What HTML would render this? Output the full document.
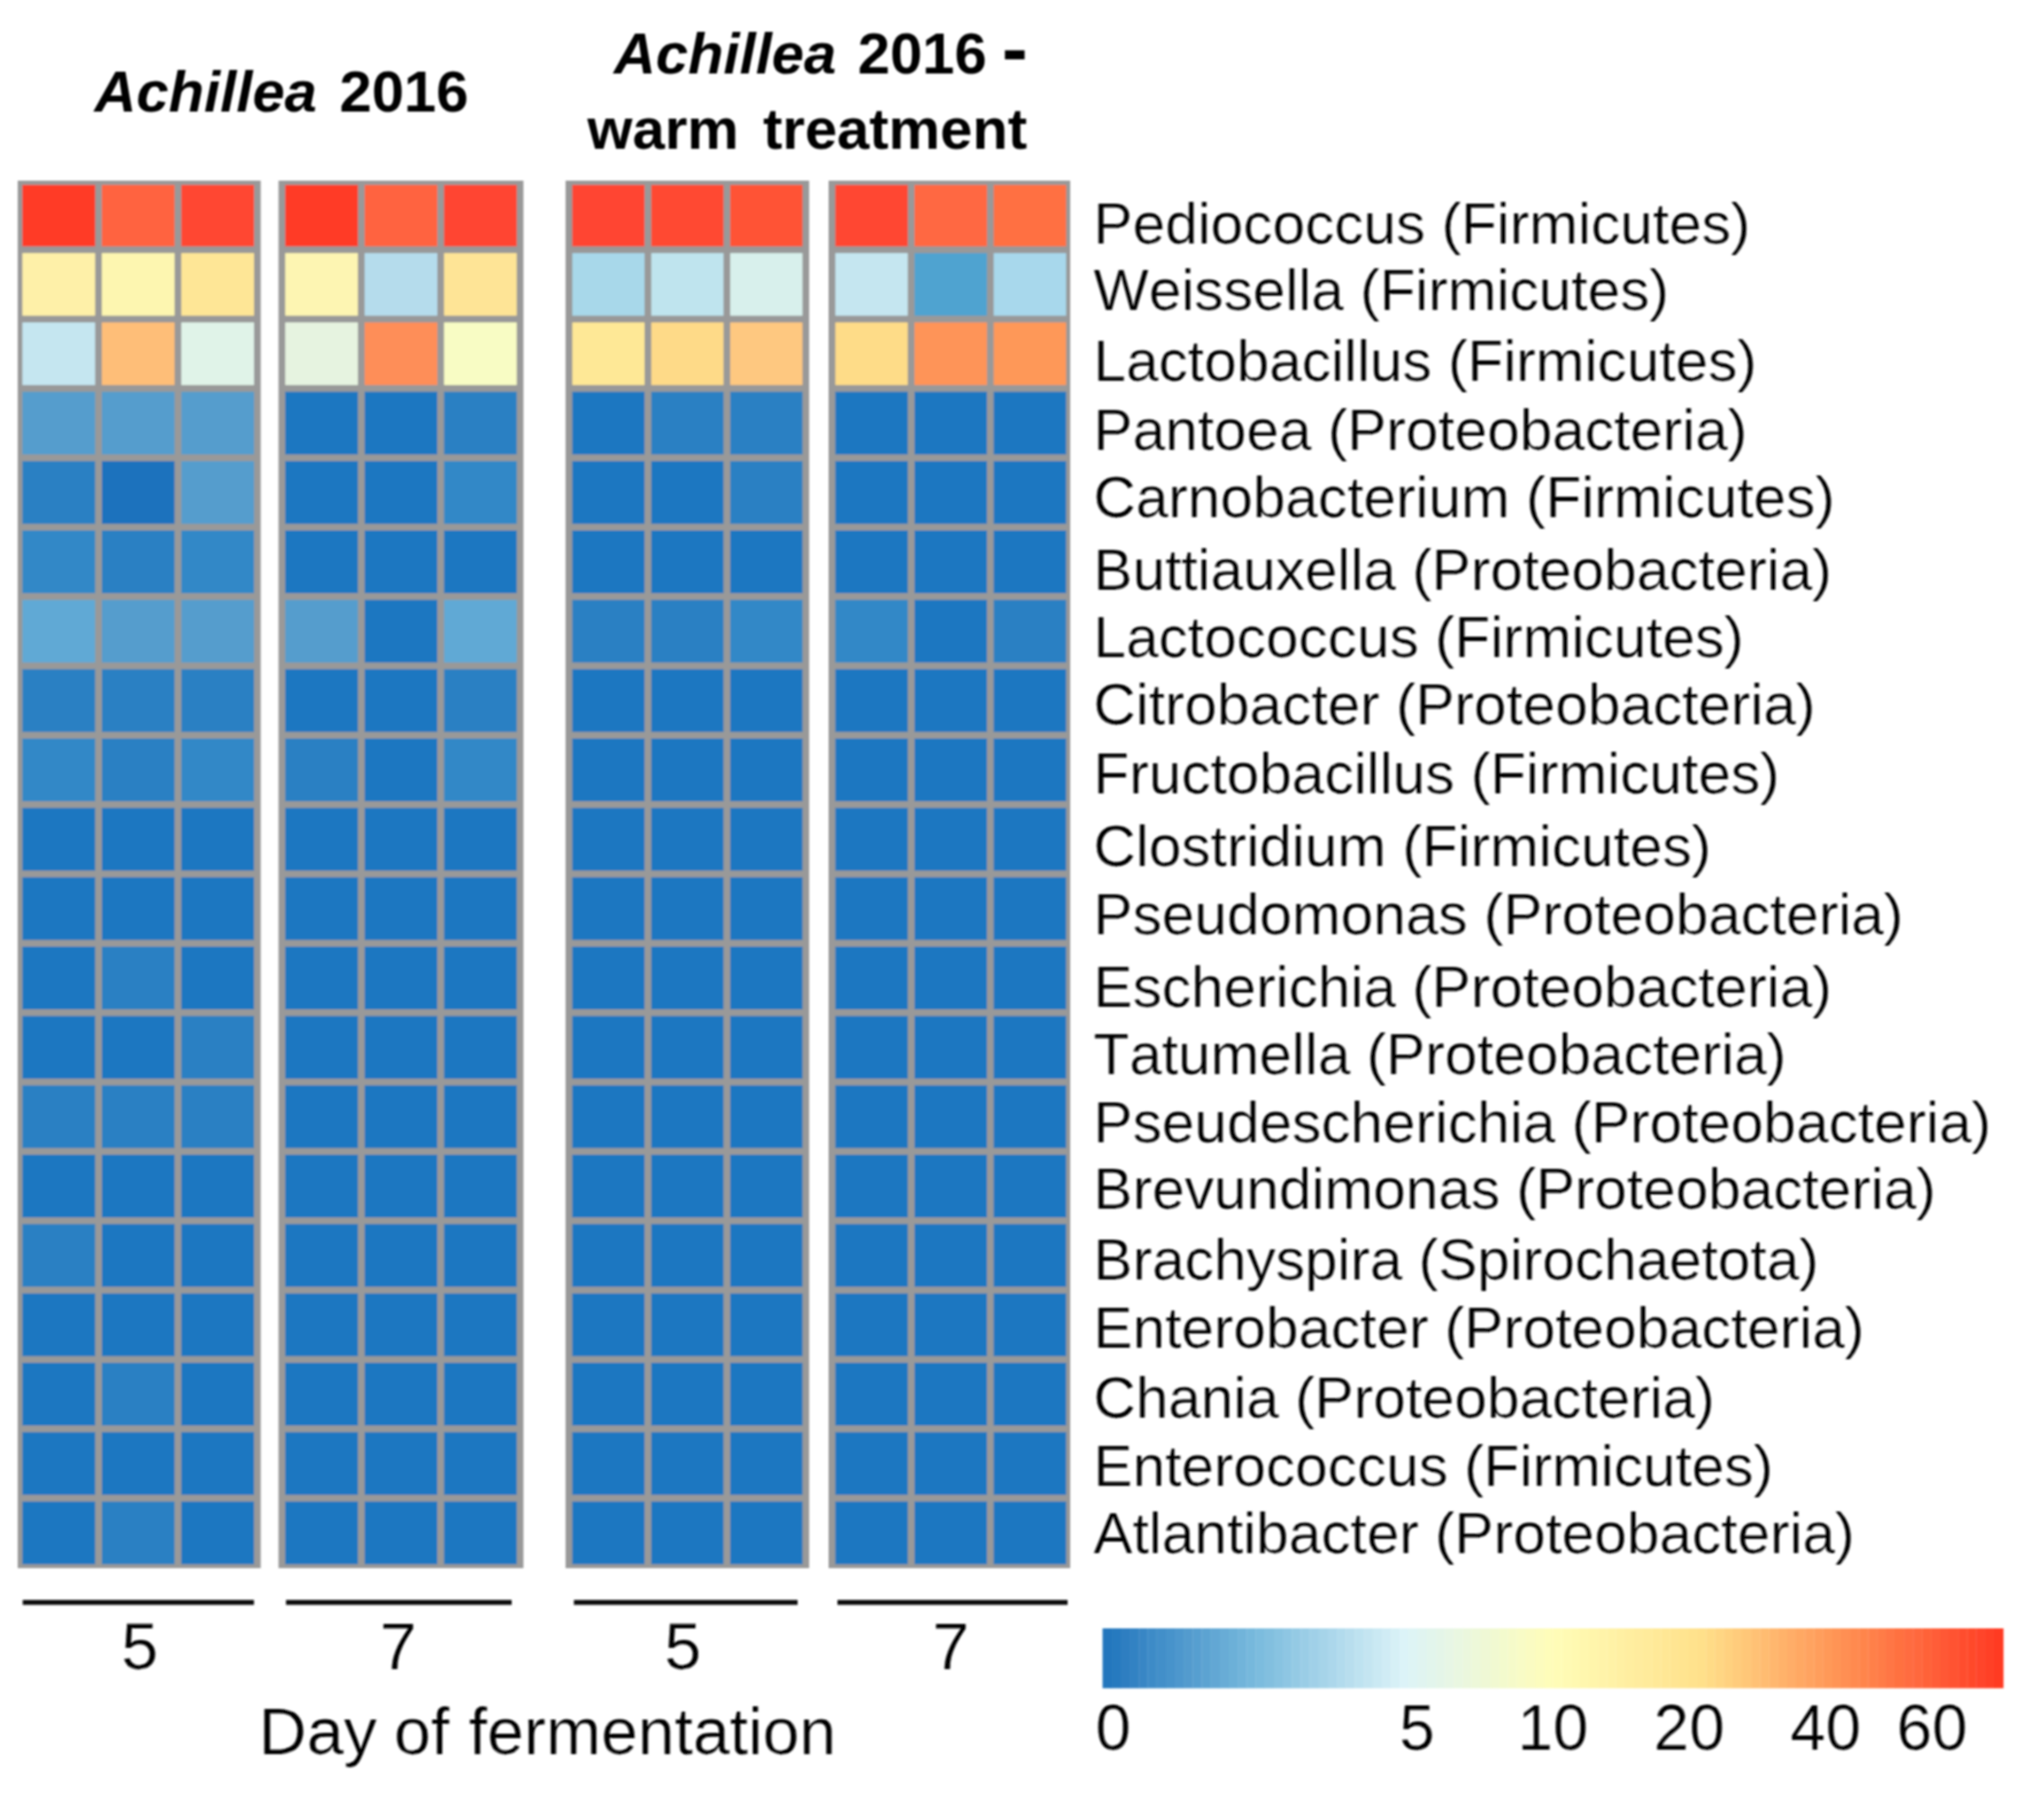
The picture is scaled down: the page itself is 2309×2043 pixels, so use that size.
<!DOCTYPE html>
<html lang="en"><head><meta charset="utf-8"><title>Heatmap</title>
<style>html,body{margin:0;padding:0;background:#fff;}body{width:2309px;height:2043px;overflow:hidden;}svg{display:block;}text{font-family:"Liberation Sans",sans-serif;font-kerning:none;fill:#000;stroke:#fff;stroke-width:0.17px;}text.b{stroke:none;}</style>
</head><body>
<svg width="2309" height="2043" viewBox="0 0 2309 2043">
<defs><clipPath id="hm"><rect x="20" y="204" width="1189" height="1567"/></clipPath>
<linearGradient id="cb" x1="0" x2="1" y1="0" y2="0">
<stop offset="0.0000" stop-color="#2376BD"/>
<stop offset="0.1667" stop-color="#79BADD"/>
<stop offset="0.3333" stop-color="#DCF3F8"/>
<stop offset="0.5000" stop-color="#FFFDB8"/>
<stop offset="0.6667" stop-color="#FFE08A"/>
<stop offset="0.8333" stop-color="#FF8C50"/>
<stop offset="1.0000" stop-color="#FF3A24"/>
</linearGradient><filter id="soft" x="0" y="0" width="2309" height="2043" filterUnits="userSpaceOnUse"><feGaussianBlur stdDeviation="1.0"/></filter></defs>
<rect width="2309" height="2043" fill="#fff"/>
<g filter="url(#soft)">
<g clip-path="url(#hm)">
<rect x="17.70" y="199.90" width="276.85" height="1574.20" fill="#999999"/>
<rect x="25.30" y="208.80" width="82.15" height="69.43" fill="#FF3A27"/>
<rect x="115.05" y="208.80" width="82.15" height="69.43" fill="#FF643F"/>
<rect x="204.80" y="208.80" width="82.15" height="69.43" fill="#FF4730"/>
<rect x="25.30" y="285.83" width="82.15" height="70.73" fill="#FEF0A8"/>
<rect x="115.05" y="285.83" width="82.15" height="70.73" fill="#FDF6B0"/>
<rect x="204.80" y="285.83" width="82.15" height="70.73" fill="#FEE696"/>
<rect x="25.30" y="364.16" width="82.15" height="70.73" fill="#C5E6F0"/>
<rect x="115.05" y="364.16" width="82.15" height="70.73" fill="#FEBE78"/>
<rect x="204.80" y="364.16" width="82.15" height="70.73" fill="#E0F3E8"/>
<rect x="25.30" y="442.49" width="82.15" height="70.73" fill="#549DCD"/>
<rect x="115.05" y="442.49" width="82.15" height="70.73" fill="#549DCD"/>
<rect x="204.80" y="442.49" width="82.15" height="70.73" fill="#549DCD"/>
<rect x="25.30" y="520.82" width="82.15" height="70.73" fill="#2A80C3"/>
<rect x="115.05" y="520.82" width="82.15" height="70.73" fill="#1D72BD"/>
<rect x="204.80" y="520.82" width="82.15" height="70.73" fill="#549DCD"/>
<rect x="25.30" y="599.15" width="82.15" height="70.73" fill="#3388C7"/>
<rect x="115.05" y="599.15" width="82.15" height="70.73" fill="#2A80C3"/>
<rect x="204.80" y="599.15" width="82.15" height="70.73" fill="#3388C7"/>
<rect x="25.30" y="677.48" width="82.15" height="70.73" fill="#60A9D5"/>
<rect x="115.05" y="677.48" width="82.15" height="70.73" fill="#549DCD"/>
<rect x="204.80" y="677.48" width="82.15" height="70.73" fill="#549DCD"/>
<rect x="25.30" y="755.81" width="82.15" height="70.73" fill="#2A80C3"/>
<rect x="115.05" y="755.81" width="82.15" height="70.73" fill="#2A80C3"/>
<rect x="204.80" y="755.81" width="82.15" height="70.73" fill="#2A80C3"/>
<rect x="25.30" y="834.14" width="82.15" height="70.73" fill="#3388C7"/>
<rect x="115.05" y="834.14" width="82.15" height="70.73" fill="#2A80C3"/>
<rect x="204.80" y="834.14" width="82.15" height="70.73" fill="#3388C7"/>
<rect x="25.30" y="912.47" width="82.15" height="70.73" fill="#1F77C1"/>
<rect x="115.05" y="912.47" width="82.15" height="70.73" fill="#1F77C1"/>
<rect x="204.80" y="912.47" width="82.15" height="70.73" fill="#1F77C1"/>
<rect x="25.30" y="990.80" width="82.15" height="70.73" fill="#1F77C1"/>
<rect x="115.05" y="990.80" width="82.15" height="70.73" fill="#1F77C1"/>
<rect x="204.80" y="990.80" width="82.15" height="70.73" fill="#1F77C1"/>
<rect x="25.30" y="1069.13" width="82.15" height="70.73" fill="#1F77C1"/>
<rect x="115.05" y="1069.13" width="82.15" height="70.73" fill="#2A80C3"/>
<rect x="204.80" y="1069.13" width="82.15" height="70.73" fill="#1F77C1"/>
<rect x="25.30" y="1147.46" width="82.15" height="70.73" fill="#1F77C1"/>
<rect x="115.05" y="1147.46" width="82.15" height="70.73" fill="#1F77C1"/>
<rect x="204.80" y="1147.46" width="82.15" height="70.73" fill="#2A80C3"/>
<rect x="25.30" y="1225.79" width="82.15" height="70.73" fill="#2A80C3"/>
<rect x="115.05" y="1225.79" width="82.15" height="70.73" fill="#2A80C3"/>
<rect x="204.80" y="1225.79" width="82.15" height="70.73" fill="#2A80C3"/>
<rect x="25.30" y="1304.12" width="82.15" height="70.73" fill="#1F77C1"/>
<rect x="115.05" y="1304.12" width="82.15" height="70.73" fill="#1F77C1"/>
<rect x="204.80" y="1304.12" width="82.15" height="70.73" fill="#1F77C1"/>
<rect x="25.30" y="1382.45" width="82.15" height="70.73" fill="#2A80C3"/>
<rect x="115.05" y="1382.45" width="82.15" height="70.73" fill="#1F77C1"/>
<rect x="204.80" y="1382.45" width="82.15" height="70.73" fill="#1F77C1"/>
<rect x="25.30" y="1460.78" width="82.15" height="70.73" fill="#1F77C1"/>
<rect x="115.05" y="1460.78" width="82.15" height="70.73" fill="#1F77C1"/>
<rect x="204.80" y="1460.78" width="82.15" height="70.73" fill="#1F77C1"/>
<rect x="25.30" y="1539.11" width="82.15" height="70.73" fill="#1F77C1"/>
<rect x="115.05" y="1539.11" width="82.15" height="70.73" fill="#2A80C3"/>
<rect x="204.80" y="1539.11" width="82.15" height="70.73" fill="#1F77C1"/>
<rect x="25.30" y="1617.44" width="82.15" height="70.73" fill="#1F77C1"/>
<rect x="115.05" y="1617.44" width="82.15" height="70.73" fill="#1F77C1"/>
<rect x="204.80" y="1617.44" width="82.15" height="70.73" fill="#1F77C1"/>
<rect x="25.30" y="1695.77" width="82.15" height="70.73" fill="#1F77C1"/>
<rect x="115.05" y="1695.77" width="82.15" height="70.73" fill="#2A80C3"/>
<rect x="204.80" y="1695.77" width="82.15" height="70.73" fill="#1F77C1"/>
<rect x="314.60" y="199.90" width="276.70" height="1574.20" fill="#999999"/>
<rect x="322.20" y="208.80" width="82.10" height="69.43" fill="#FF3A27"/>
<rect x="411.90" y="208.80" width="82.10" height="69.43" fill="#FF6340"/>
<rect x="501.60" y="208.80" width="82.10" height="69.43" fill="#FF4530"/>
<rect x="322.20" y="285.83" width="82.10" height="70.73" fill="#FDF5B2"/>
<rect x="411.90" y="285.83" width="82.10" height="70.73" fill="#B5DCEC"/>
<rect x="501.60" y="285.83" width="82.10" height="70.73" fill="#FEE496"/>
<rect x="322.20" y="364.16" width="82.10" height="70.73" fill="#E6F3E0"/>
<rect x="411.90" y="364.16" width="82.10" height="70.73" fill="#FE8E58"/>
<rect x="501.60" y="364.16" width="82.10" height="70.73" fill="#F8FCC4"/>
<rect x="322.20" y="442.49" width="82.10" height="70.73" fill="#1F77C1"/>
<rect x="411.90" y="442.49" width="82.10" height="70.73" fill="#1F77C1"/>
<rect x="501.60" y="442.49" width="82.10" height="70.73" fill="#2A80C3"/>
<rect x="322.20" y="520.82" width="82.10" height="70.73" fill="#1F77C1"/>
<rect x="411.90" y="520.82" width="82.10" height="70.73" fill="#1F77C1"/>
<rect x="501.60" y="520.82" width="82.10" height="70.73" fill="#3388C7"/>
<rect x="322.20" y="599.15" width="82.10" height="70.73" fill="#1F77C1"/>
<rect x="411.90" y="599.15" width="82.10" height="70.73" fill="#1F77C1"/>
<rect x="501.60" y="599.15" width="82.10" height="70.73" fill="#1F77C1"/>
<rect x="322.20" y="677.48" width="82.10" height="70.73" fill="#549DCD"/>
<rect x="411.90" y="677.48" width="82.10" height="70.73" fill="#1F77C1"/>
<rect x="501.60" y="677.48" width="82.10" height="70.73" fill="#60A9D5"/>
<rect x="322.20" y="755.81" width="82.10" height="70.73" fill="#1F77C1"/>
<rect x="411.90" y="755.81" width="82.10" height="70.73" fill="#1F77C1"/>
<rect x="501.60" y="755.81" width="82.10" height="70.73" fill="#2A80C3"/>
<rect x="322.20" y="834.14" width="82.10" height="70.73" fill="#2A80C3"/>
<rect x="411.90" y="834.14" width="82.10" height="70.73" fill="#1F77C1"/>
<rect x="501.60" y="834.14" width="82.10" height="70.73" fill="#3388C7"/>
<rect x="322.20" y="912.47" width="82.10" height="70.73" fill="#1F77C1"/>
<rect x="411.90" y="912.47" width="82.10" height="70.73" fill="#1F77C1"/>
<rect x="501.60" y="912.47" width="82.10" height="70.73" fill="#1F77C1"/>
<rect x="322.20" y="990.80" width="82.10" height="70.73" fill="#1F77C1"/>
<rect x="411.90" y="990.80" width="82.10" height="70.73" fill="#1F77C1"/>
<rect x="501.60" y="990.80" width="82.10" height="70.73" fill="#1F77C1"/>
<rect x="322.20" y="1069.13" width="82.10" height="70.73" fill="#1F77C1"/>
<rect x="411.90" y="1069.13" width="82.10" height="70.73" fill="#1F77C1"/>
<rect x="501.60" y="1069.13" width="82.10" height="70.73" fill="#1F77C1"/>
<rect x="322.20" y="1147.46" width="82.10" height="70.73" fill="#1F77C1"/>
<rect x="411.90" y="1147.46" width="82.10" height="70.73" fill="#1F77C1"/>
<rect x="501.60" y="1147.46" width="82.10" height="70.73" fill="#1F77C1"/>
<rect x="322.20" y="1225.79" width="82.10" height="70.73" fill="#1F77C1"/>
<rect x="411.90" y="1225.79" width="82.10" height="70.73" fill="#1F77C1"/>
<rect x="501.60" y="1225.79" width="82.10" height="70.73" fill="#1F77C1"/>
<rect x="322.20" y="1304.12" width="82.10" height="70.73" fill="#1F77C1"/>
<rect x="411.90" y="1304.12" width="82.10" height="70.73" fill="#1F77C1"/>
<rect x="501.60" y="1304.12" width="82.10" height="70.73" fill="#1F77C1"/>
<rect x="322.20" y="1382.45" width="82.10" height="70.73" fill="#1F77C1"/>
<rect x="411.90" y="1382.45" width="82.10" height="70.73" fill="#1F77C1"/>
<rect x="501.60" y="1382.45" width="82.10" height="70.73" fill="#1F77C1"/>
<rect x="322.20" y="1460.78" width="82.10" height="70.73" fill="#1F77C1"/>
<rect x="411.90" y="1460.78" width="82.10" height="70.73" fill="#1F77C1"/>
<rect x="501.60" y="1460.78" width="82.10" height="70.73" fill="#1F77C1"/>
<rect x="322.20" y="1539.11" width="82.10" height="70.73" fill="#1F77C1"/>
<rect x="411.90" y="1539.11" width="82.10" height="70.73" fill="#1F77C1"/>
<rect x="501.60" y="1539.11" width="82.10" height="70.73" fill="#1F77C1"/>
<rect x="322.20" y="1617.44" width="82.10" height="70.73" fill="#1F77C1"/>
<rect x="411.90" y="1617.44" width="82.10" height="70.73" fill="#1F77C1"/>
<rect x="501.60" y="1617.44" width="82.10" height="70.73" fill="#1F77C1"/>
<rect x="322.20" y="1695.77" width="82.10" height="70.73" fill="#1F77C1"/>
<rect x="411.90" y="1695.77" width="82.10" height="70.73" fill="#1F77C1"/>
<rect x="501.60" y="1695.77" width="82.10" height="70.73" fill="#1F77C1"/>
<rect x="638.90" y="199.90" width="275.20" height="1574.20" fill="#999999"/>
<rect x="646.50" y="208.80" width="81.60" height="69.43" fill="#FF4530"/>
<rect x="735.70" y="208.80" width="81.60" height="69.43" fill="#FF4A32"/>
<rect x="824.90" y="208.80" width="81.60" height="69.43" fill="#FF5236"/>
<rect x="646.50" y="285.83" width="81.60" height="70.73" fill="#A8D8EA"/>
<rect x="735.70" y="285.83" width="81.60" height="70.73" fill="#BFE4EE"/>
<rect x="824.90" y="285.83" width="81.60" height="70.73" fill="#D8F0EC"/>
<rect x="646.50" y="364.16" width="81.60" height="70.73" fill="#FEE896"/>
<rect x="735.70" y="364.16" width="81.60" height="70.73" fill="#FEDA88"/>
<rect x="824.90" y="364.16" width="81.60" height="70.73" fill="#FEC880"/>
<rect x="646.50" y="442.49" width="81.60" height="70.73" fill="#1F77C1"/>
<rect x="735.70" y="442.49" width="81.60" height="70.73" fill="#2A80C3"/>
<rect x="824.90" y="442.49" width="81.60" height="70.73" fill="#2A80C3"/>
<rect x="646.50" y="520.82" width="81.60" height="70.73" fill="#1F77C1"/>
<rect x="735.70" y="520.82" width="81.60" height="70.73" fill="#1F77C1"/>
<rect x="824.90" y="520.82" width="81.60" height="70.73" fill="#2A80C3"/>
<rect x="646.50" y="599.15" width="81.60" height="70.73" fill="#1F77C1"/>
<rect x="735.70" y="599.15" width="81.60" height="70.73" fill="#1F77C1"/>
<rect x="824.90" y="599.15" width="81.60" height="70.73" fill="#1F77C1"/>
<rect x="646.50" y="677.48" width="81.60" height="70.73" fill="#2A80C3"/>
<rect x="735.70" y="677.48" width="81.60" height="70.73" fill="#2A80C3"/>
<rect x="824.90" y="677.48" width="81.60" height="70.73" fill="#3388C7"/>
<rect x="646.50" y="755.81" width="81.60" height="70.73" fill="#1F77C1"/>
<rect x="735.70" y="755.81" width="81.60" height="70.73" fill="#1F77C1"/>
<rect x="824.90" y="755.81" width="81.60" height="70.73" fill="#1F77C1"/>
<rect x="646.50" y="834.14" width="81.60" height="70.73" fill="#1F77C1"/>
<rect x="735.70" y="834.14" width="81.60" height="70.73" fill="#1F77C1"/>
<rect x="824.90" y="834.14" width="81.60" height="70.73" fill="#1F77C1"/>
<rect x="646.50" y="912.47" width="81.60" height="70.73" fill="#1F77C1"/>
<rect x="735.70" y="912.47" width="81.60" height="70.73" fill="#1F77C1"/>
<rect x="824.90" y="912.47" width="81.60" height="70.73" fill="#1F77C1"/>
<rect x="646.50" y="990.80" width="81.60" height="70.73" fill="#1F77C1"/>
<rect x="735.70" y="990.80" width="81.60" height="70.73" fill="#1F77C1"/>
<rect x="824.90" y="990.80" width="81.60" height="70.73" fill="#1F77C1"/>
<rect x="646.50" y="1069.13" width="81.60" height="70.73" fill="#1F77C1"/>
<rect x="735.70" y="1069.13" width="81.60" height="70.73" fill="#1F77C1"/>
<rect x="824.90" y="1069.13" width="81.60" height="70.73" fill="#1F77C1"/>
<rect x="646.50" y="1147.46" width="81.60" height="70.73" fill="#1F77C1"/>
<rect x="735.70" y="1147.46" width="81.60" height="70.73" fill="#1F77C1"/>
<rect x="824.90" y="1147.46" width="81.60" height="70.73" fill="#1F77C1"/>
<rect x="646.50" y="1225.79" width="81.60" height="70.73" fill="#1F77C1"/>
<rect x="735.70" y="1225.79" width="81.60" height="70.73" fill="#1F77C1"/>
<rect x="824.90" y="1225.79" width="81.60" height="70.73" fill="#1F77C1"/>
<rect x="646.50" y="1304.12" width="81.60" height="70.73" fill="#1F77C1"/>
<rect x="735.70" y="1304.12" width="81.60" height="70.73" fill="#1F77C1"/>
<rect x="824.90" y="1304.12" width="81.60" height="70.73" fill="#1F77C1"/>
<rect x="646.50" y="1382.45" width="81.60" height="70.73" fill="#1F77C1"/>
<rect x="735.70" y="1382.45" width="81.60" height="70.73" fill="#1F77C1"/>
<rect x="824.90" y="1382.45" width="81.60" height="70.73" fill="#1F77C1"/>
<rect x="646.50" y="1460.78" width="81.60" height="70.73" fill="#1F77C1"/>
<rect x="735.70" y="1460.78" width="81.60" height="70.73" fill="#1F77C1"/>
<rect x="824.90" y="1460.78" width="81.60" height="70.73" fill="#1F77C1"/>
<rect x="646.50" y="1539.11" width="81.60" height="70.73" fill="#1F77C1"/>
<rect x="735.70" y="1539.11" width="81.60" height="70.73" fill="#1F77C1"/>
<rect x="824.90" y="1539.11" width="81.60" height="70.73" fill="#1F77C1"/>
<rect x="646.50" y="1617.44" width="81.60" height="70.73" fill="#1F77C1"/>
<rect x="735.70" y="1617.44" width="81.60" height="70.73" fill="#1F77C1"/>
<rect x="824.90" y="1617.44" width="81.60" height="70.73" fill="#1F77C1"/>
<rect x="646.50" y="1695.77" width="81.60" height="70.73" fill="#1F77C1"/>
<rect x="735.70" y="1695.77" width="81.60" height="70.73" fill="#1F77C1"/>
<rect x="824.90" y="1695.77" width="81.60" height="70.73" fill="#1F77C1"/>
<rect x="936.00" y="199.90" width="275.95" height="1574.20" fill="#999999"/>
<rect x="943.60" y="208.80" width="81.85" height="69.43" fill="#FF4630"/>
<rect x="1033.05" y="208.80" width="81.85" height="69.43" fill="#FF6842"/>
<rect x="1122.50" y="208.80" width="81.85" height="69.43" fill="#FF7043"/>
<rect x="943.60" y="285.83" width="81.85" height="70.73" fill="#C5E6F0"/>
<rect x="1033.05" y="285.83" width="81.85" height="70.73" fill="#4FA3D0"/>
<rect x="1122.50" y="285.83" width="81.85" height="70.73" fill="#A8D8EC"/>
<rect x="943.60" y="364.16" width="81.85" height="70.73" fill="#FEDC88"/>
<rect x="1033.05" y="364.16" width="81.85" height="70.73" fill="#FE9458"/>
<rect x="1122.50" y="364.16" width="81.85" height="70.73" fill="#FE9858"/>
<rect x="943.60" y="442.49" width="81.85" height="70.73" fill="#1F77C1"/>
<rect x="1033.05" y="442.49" width="81.85" height="70.73" fill="#1F77C1"/>
<rect x="1122.50" y="442.49" width="81.85" height="70.73" fill="#1F77C1"/>
<rect x="943.60" y="520.82" width="81.85" height="70.73" fill="#1F77C1"/>
<rect x="1033.05" y="520.82" width="81.85" height="70.73" fill="#1F77C1"/>
<rect x="1122.50" y="520.82" width="81.85" height="70.73" fill="#1F77C1"/>
<rect x="943.60" y="599.15" width="81.85" height="70.73" fill="#1F77C1"/>
<rect x="1033.05" y="599.15" width="81.85" height="70.73" fill="#1F77C1"/>
<rect x="1122.50" y="599.15" width="81.85" height="70.73" fill="#1F77C1"/>
<rect x="943.60" y="677.48" width="81.85" height="70.73" fill="#3388C7"/>
<rect x="1033.05" y="677.48" width="81.85" height="70.73" fill="#1F77C1"/>
<rect x="1122.50" y="677.48" width="81.85" height="70.73" fill="#2A80C3"/>
<rect x="943.60" y="755.81" width="81.85" height="70.73" fill="#1F77C1"/>
<rect x="1033.05" y="755.81" width="81.85" height="70.73" fill="#1F77C1"/>
<rect x="1122.50" y="755.81" width="81.85" height="70.73" fill="#1F77C1"/>
<rect x="943.60" y="834.14" width="81.85" height="70.73" fill="#1F77C1"/>
<rect x="1033.05" y="834.14" width="81.85" height="70.73" fill="#1F77C1"/>
<rect x="1122.50" y="834.14" width="81.85" height="70.73" fill="#1F77C1"/>
<rect x="943.60" y="912.47" width="81.85" height="70.73" fill="#1F77C1"/>
<rect x="1033.05" y="912.47" width="81.85" height="70.73" fill="#1F77C1"/>
<rect x="1122.50" y="912.47" width="81.85" height="70.73" fill="#1F77C1"/>
<rect x="943.60" y="990.80" width="81.85" height="70.73" fill="#1F77C1"/>
<rect x="1033.05" y="990.80" width="81.85" height="70.73" fill="#1F77C1"/>
<rect x="1122.50" y="990.80" width="81.85" height="70.73" fill="#1F77C1"/>
<rect x="943.60" y="1069.13" width="81.85" height="70.73" fill="#1F77C1"/>
<rect x="1033.05" y="1069.13" width="81.85" height="70.73" fill="#1F77C1"/>
<rect x="1122.50" y="1069.13" width="81.85" height="70.73" fill="#1F77C1"/>
<rect x="943.60" y="1147.46" width="81.85" height="70.73" fill="#1F77C1"/>
<rect x="1033.05" y="1147.46" width="81.85" height="70.73" fill="#1F77C1"/>
<rect x="1122.50" y="1147.46" width="81.85" height="70.73" fill="#1F77C1"/>
<rect x="943.60" y="1225.79" width="81.85" height="70.73" fill="#1F77C1"/>
<rect x="1033.05" y="1225.79" width="81.85" height="70.73" fill="#1F77C1"/>
<rect x="1122.50" y="1225.79" width="81.85" height="70.73" fill="#1F77C1"/>
<rect x="943.60" y="1304.12" width="81.85" height="70.73" fill="#1F77C1"/>
<rect x="1033.05" y="1304.12" width="81.85" height="70.73" fill="#1F77C1"/>
<rect x="1122.50" y="1304.12" width="81.85" height="70.73" fill="#1F77C1"/>
<rect x="943.60" y="1382.45" width="81.85" height="70.73" fill="#1F77C1"/>
<rect x="1033.05" y="1382.45" width="81.85" height="70.73" fill="#1F77C1"/>
<rect x="1122.50" y="1382.45" width="81.85" height="70.73" fill="#1F77C1"/>
<rect x="943.60" y="1460.78" width="81.85" height="70.73" fill="#1F77C1"/>
<rect x="1033.05" y="1460.78" width="81.85" height="70.73" fill="#1F77C1"/>
<rect x="1122.50" y="1460.78" width="81.85" height="70.73" fill="#1F77C1"/>
<rect x="943.60" y="1539.11" width="81.85" height="70.73" fill="#1F77C1"/>
<rect x="1033.05" y="1539.11" width="81.85" height="70.73" fill="#1F77C1"/>
<rect x="1122.50" y="1539.11" width="81.85" height="70.73" fill="#1F77C1"/>
<rect x="943.60" y="1617.44" width="81.85" height="70.73" fill="#1F77C1"/>
<rect x="1033.05" y="1617.44" width="81.85" height="70.73" fill="#1F77C1"/>
<rect x="1122.50" y="1617.44" width="81.85" height="70.73" fill="#1F77C1"/>
<rect x="943.60" y="1695.77" width="81.85" height="70.73" fill="#1F77C1"/>
<rect x="1033.05" y="1695.77" width="81.85" height="70.73" fill="#1F77C1"/>
<rect x="1122.50" y="1695.77" width="81.85" height="70.73" fill="#1F77C1"/>
</g>
<text transform="translate(1235.3,274.5) scale(1.0169,1)" font-size="65">Pediococcus (Firmicutes)</text>
<text transform="translate(1235.3,350.3) scale(1.0169,1)" font-size="65">Weissella (Firmicutes)</text>
<text transform="translate(1235.3,429.5) scale(1.0169,1)" font-size="65">Lactobacillus (Firmicutes)</text>
<text transform="translate(1235.3,508.0) scale(1.0169,1)" font-size="65">Pantoea (Proteobacteria)</text>
<text transform="translate(1235.3,584.3) scale(1.0169,1)" font-size="65">Carnobacterium (Firmicutes)</text>
<text transform="translate(1235.3,665.5) scale(1.0169,1)" font-size="65">Buttiauxella (Proteobacteria)</text>
<text transform="translate(1235.3,742.1) scale(1.0169,1)" font-size="65">Lactococcus (Firmicutes)</text>
<text transform="translate(1235.3,818.4) scale(1.0169,1)" font-size="65">Citrobacter (Proteobacteria)</text>
<text transform="translate(1235.3,895.7) scale(1.0169,1)" font-size="65">Fructobacillus (Firmicutes)</text>
<text transform="translate(1235.3,978.0) scale(1.0169,1)" font-size="65">Clostridium (Firmicutes)</text>
<text transform="translate(1235.3,1054.7) scale(1.0169,1)" font-size="65">Pseudomonas (Proteobacteria)</text>
<text transform="translate(1235.3,1136.5) scale(1.0169,1)" font-size="65">Escherichia (Proteobacteria)</text>
<text transform="translate(1235.3,1212.8) scale(1.0169,1)" font-size="65">Tatumella (Proteobacteria)</text>
<text transform="translate(1235.3,1289.6) scale(1.0169,1)" font-size="65">Pseudescherichia (Proteobacteria)</text>
<text transform="translate(1235.3,1365.4) scale(1.0169,1)" font-size="65">Brevundimonas (Proteobacteria)</text>
<text transform="translate(1235.3,1445.4) scale(1.0169,1)" font-size="65">Brachyspira (Spirochaetota)</text>
<text transform="translate(1235.3,1522.1) scale(1.0169,1)" font-size="65">Enterobacter (Proteobacteria)</text>
<text transform="translate(1235.3,1600.6) scale(1.0169,1)" font-size="65">Chania (Proteobacteria)</text>
<text transform="translate(1235.3,1677.6) scale(1.0169,1)" font-size="65">Enterococcus (Firmicutes)</text>
<text transform="translate(1235.3,1753.8) scale(1.0169,1)" font-size="65">Atlantibacter (Proteobacteria)</text>
<text x="106.8" y="125.9" font-size="65.5" class="b" font-weight="bold" font-style="italic">Achillea</text>
<text x="383.5" y="125.9" font-size="65.5" class="b" font-weight="bold">2016</text>
<text x="693.5" y="82.6" font-size="65.5" class="b" font-weight="bold" font-style="italic">Achillea</text>
<text x="969.0" y="82.6" font-size="65.5" class="b" font-weight="bold">2016</text>
<text class="b" font-weight="bold" font-size="65.5" transform="translate(1131.7,84.3) scale(1.34,1.29)">-</text>
<text x="663.5" y="167.7" font-size="65.5" class="b" font-weight="bold">warm</text>
<text x="861.9" y="167.7" font-size="65.5" class="b" font-weight="bold">treatment</text>
<rect x="25.7" y="1806.9" width="261.2" height="5.6" fill="#111"/>
<rect x="323.1" y="1806.9" width="254.9" height="5.6" fill="#111"/>
<rect x="648.3" y="1806.9" width="252.7" height="5.6" fill="#111"/>
<rect x="946.0" y="1806.9" width="260.0" height="5.6" fill="#111"/>
<text x="137.1" y="1884.5" font-size="75">5</text>
<text x="428.9" y="1884.5" font-size="75">7</text>
<text x="750.5" y="1884.5" font-size="75">5</text>
<text x="1053.2" y="1884.5" font-size="75">7</text>
<text x="292.3" y="1980.6" font-size="75">Day</text>
<text x="445.0" y="1980.6" font-size="75">of</text>
<text x="529.5" y="1980.6" font-size="74.7">fermentation</text>
<rect x="1245.50" y="1839" width="10.47" height="67.6" fill="#2376BD"/>
<rect x="1255.67" y="1839" width="10.47" height="67.6" fill="#287ABF"/>
<rect x="1265.85" y="1839" width="10.48" height="67.6" fill="#2D7EC1"/>
<rect x="1276.03" y="1839" width="10.47" height="67.6" fill="#3382C3"/>
<rect x="1286.20" y="1839" width="10.47" height="67.6" fill="#3886C5"/>
<rect x="1296.38" y="1839" width="10.47" height="67.6" fill="#3D8BC7"/>
<rect x="1306.55" y="1839" width="10.47" height="67.6" fill="#428FC9"/>
<rect x="1316.72" y="1839" width="10.48" height="67.6" fill="#4793CB"/>
<rect x="1326.90" y="1839" width="10.47" height="67.6" fill="#4D97CD"/>
<rect x="1337.08" y="1839" width="10.47" height="67.6" fill="#529BCE"/>
<rect x="1347.25" y="1839" width="10.47" height="67.6" fill="#579FD0"/>
<rect x="1357.42" y="1839" width="10.47" height="67.6" fill="#5CA3D2"/>
<rect x="1367.60" y="1839" width="10.48" height="67.6" fill="#62A7D4"/>
<rect x="1377.78" y="1839" width="10.47" height="67.6" fill="#67ACD6"/>
<rect x="1387.95" y="1839" width="10.47" height="67.6" fill="#6CB0D8"/>
<rect x="1398.12" y="1839" width="10.47" height="67.6" fill="#71B4DA"/>
<rect x="1408.30" y="1839" width="10.47" height="67.6" fill="#76B8DC"/>
<rect x="1418.47" y="1839" width="10.48" height="67.6" fill="#7CBCDE"/>
<rect x="1428.65" y="1839" width="10.47" height="67.6" fill="#82BFDF"/>
<rect x="1438.83" y="1839" width="10.47" height="67.6" fill="#88C3E1"/>
<rect x="1449.00" y="1839" width="10.47" height="67.6" fill="#8EC6E3"/>
<rect x="1459.17" y="1839" width="10.47" height="67.6" fill="#94CAE4"/>
<rect x="1469.35" y="1839" width="10.48" height="67.6" fill="#9ACDE6"/>
<rect x="1479.53" y="1839" width="10.47" height="67.6" fill="#A0D0E8"/>
<rect x="1489.70" y="1839" width="10.47" height="67.6" fill="#A6D4E9"/>
<rect x="1499.88" y="1839" width="10.47" height="67.6" fill="#ACD7EB"/>
<rect x="1510.05" y="1839" width="10.47" height="67.6" fill="#B2DBED"/>
<rect x="1520.22" y="1839" width="10.48" height="67.6" fill="#B8DEEE"/>
<rect x="1530.40" y="1839" width="10.47" height="67.6" fill="#BEE2F0"/>
<rect x="1540.58" y="1839" width="10.47" height="67.6" fill="#C4E5F1"/>
<rect x="1550.75" y="1839" width="10.47" height="67.6" fill="#CAE9F3"/>
<rect x="1560.92" y="1839" width="10.47" height="67.6" fill="#D0ECF5"/>
<rect x="1571.10" y="1839" width="10.48" height="67.6" fill="#D6F0F6"/>
<rect x="1581.28" y="1839" width="10.47" height="67.6" fill="#DCF3F8"/>
<rect x="1591.45" y="1839" width="10.47" height="67.6" fill="#DEF4F4"/>
<rect x="1601.62" y="1839" width="10.47" height="67.6" fill="#E0F4F0"/>
<rect x="1611.80" y="1839" width="10.47" height="67.6" fill="#E2F5EC"/>
<rect x="1621.97" y="1839" width="10.48" height="67.6" fill="#E4F5E8"/>
<rect x="1632.15" y="1839" width="10.47" height="67.6" fill="#E7F6E5"/>
<rect x="1642.33" y="1839" width="10.47" height="67.6" fill="#E9F7E1"/>
<rect x="1652.50" y="1839" width="10.47" height="67.6" fill="#EBF7DD"/>
<rect x="1662.67" y="1839" width="10.47" height="67.6" fill="#EDF8D9"/>
<rect x="1672.85" y="1839" width="10.48" height="67.6" fill="#EFF8D5"/>
<rect x="1683.03" y="1839" width="10.47" height="67.6" fill="#F1F9D1"/>
<rect x="1693.20" y="1839" width="10.47" height="67.6" fill="#F3FACD"/>
<rect x="1703.38" y="1839" width="10.47" height="67.6" fill="#F5FAC9"/>
<rect x="1713.55" y="1839" width="10.47" height="67.6" fill="#F8FBC6"/>
<rect x="1723.72" y="1839" width="10.48" height="67.6" fill="#FAFBC2"/>
<rect x="1733.90" y="1839" width="10.47" height="67.6" fill="#FCFCBE"/>
<rect x="1744.08" y="1839" width="10.47" height="67.6" fill="#FEFDBA"/>
<rect x="1754.25" y="1839" width="10.47" height="67.6" fill="#FFFCB7"/>
<rect x="1764.42" y="1839" width="10.47" height="67.6" fill="#FFFAB4"/>
<rect x="1774.60" y="1839" width="10.48" height="67.6" fill="#FFF9B1"/>
<rect x="1784.78" y="1839" width="10.47" height="67.6" fill="#FFF7AE"/>
<rect x="1794.95" y="1839" width="10.47" height="67.6" fill="#FFF5AB"/>
<rect x="1805.12" y="1839" width="10.47" height="67.6" fill="#FFF3A9"/>
<rect x="1815.30" y="1839" width="10.47" height="67.6" fill="#FFF2A6"/>
<rect x="1825.47" y="1839" width="10.48" height="67.6" fill="#FFF0A3"/>
<rect x="1835.65" y="1839" width="10.47" height="67.6" fill="#FFEEA0"/>
<rect x="1845.83" y="1839" width="10.47" height="67.6" fill="#FFEC9E"/>
<rect x="1856.00" y="1839" width="10.47" height="67.6" fill="#FFEB9B"/>
<rect x="1866.17" y="1839" width="10.47" height="67.6" fill="#FFE998"/>
<rect x="1876.35" y="1839" width="10.48" height="67.6" fill="#FFE795"/>
<rect x="1886.53" y="1839" width="10.47" height="67.6" fill="#FFE592"/>
<rect x="1896.70" y="1839" width="10.47" height="67.6" fill="#FFE490"/>
<rect x="1906.88" y="1839" width="10.47" height="67.6" fill="#FFE28D"/>
<rect x="1917.05" y="1839" width="10.47" height="67.6" fill="#FFE08A"/>
<rect x="1927.22" y="1839" width="10.48" height="67.6" fill="#FFDB86"/>
<rect x="1937.40" y="1839" width="10.47" height="67.6" fill="#FFD683"/>
<rect x="1947.58" y="1839" width="10.47" height="67.6" fill="#FFD17F"/>
<rect x="1957.75" y="1839" width="10.47" height="67.6" fill="#FFCC7C"/>
<rect x="1967.92" y="1839" width="10.47" height="67.6" fill="#FFC778"/>
<rect x="1978.10" y="1839" width="10.48" height="67.6" fill="#FFC175"/>
<rect x="1988.28" y="1839" width="10.47" height="67.6" fill="#FFBC71"/>
<rect x="1998.45" y="1839" width="10.47" height="67.6" fill="#FFB76E"/>
<rect x="2008.62" y="1839" width="10.47" height="67.6" fill="#FFB26A"/>
<rect x="2018.80" y="1839" width="10.47" height="67.6" fill="#FFAD67"/>
<rect x="2028.97" y="1839" width="10.48" height="67.6" fill="#FFA863"/>
<rect x="2039.15" y="1839" width="10.47" height="67.6" fill="#FFA360"/>
<rect x="2049.32" y="1839" width="10.48" height="67.6" fill="#FF9E5C"/>
<rect x="2059.50" y="1839" width="10.48" height="67.6" fill="#FF9959"/>
<rect x="2069.68" y="1839" width="10.47" height="67.6" fill="#FF9455"/>
<rect x="2079.85" y="1839" width="10.48" height="67.6" fill="#FF8F52"/>
<rect x="2090.03" y="1839" width="10.47" height="67.6" fill="#FF8A4F"/>
<rect x="2100.20" y="1839" width="10.48" height="67.6" fill="#FF854C"/>
<rect x="2110.38" y="1839" width="10.48" height="67.6" fill="#FF8049"/>
<rect x="2120.55" y="1839" width="10.47" height="67.6" fill="#FF7B47"/>
<rect x="2130.72" y="1839" width="10.48" height="67.6" fill="#FF7644"/>
<rect x="2140.90" y="1839" width="10.47" height="67.6" fill="#FF7141"/>
<rect x="2151.07" y="1839" width="10.48" height="67.6" fill="#FF6C3F"/>
<rect x="2161.25" y="1839" width="10.48" height="67.6" fill="#FF673C"/>
<rect x="2171.43" y="1839" width="10.47" height="67.6" fill="#FF6239"/>
<rect x="2181.60" y="1839" width="10.48" height="67.6" fill="#FF5D37"/>
<rect x="2191.78" y="1839" width="10.47" height="67.6" fill="#FF5834"/>
<rect x="2201.95" y="1839" width="10.48" height="67.6" fill="#FF5331"/>
<rect x="2212.12" y="1839" width="10.48" height="67.6" fill="#FF4E2F"/>
<rect x="2222.30" y="1839" width="10.47" height="67.6" fill="#FF492C"/>
<rect x="2232.47" y="1839" width="10.48" height="67.6" fill="#FF4429"/>
<rect x="2242.65" y="1839" width="10.47" height="67.6" fill="#FF3F27"/>
<rect x="2252.82" y="1839" width="10.48" height="67.6" fill="#FF3A24"/>
<text x="1237.4" y="1976.3" font-size="72">0</text>
<text x="1580.8" y="1976.3" font-size="72">5</text>
<text x="1714.3" y="1976.3" font-size="72">10</text>
<text x="1868.1" y="1976.3" font-size="72">20</text>
<text x="2022.3" y="1976.3" font-size="72">40</text>
<text x="2142.5" y="1976.3" font-size="72">60</text>
</g>
</svg></body></html>
